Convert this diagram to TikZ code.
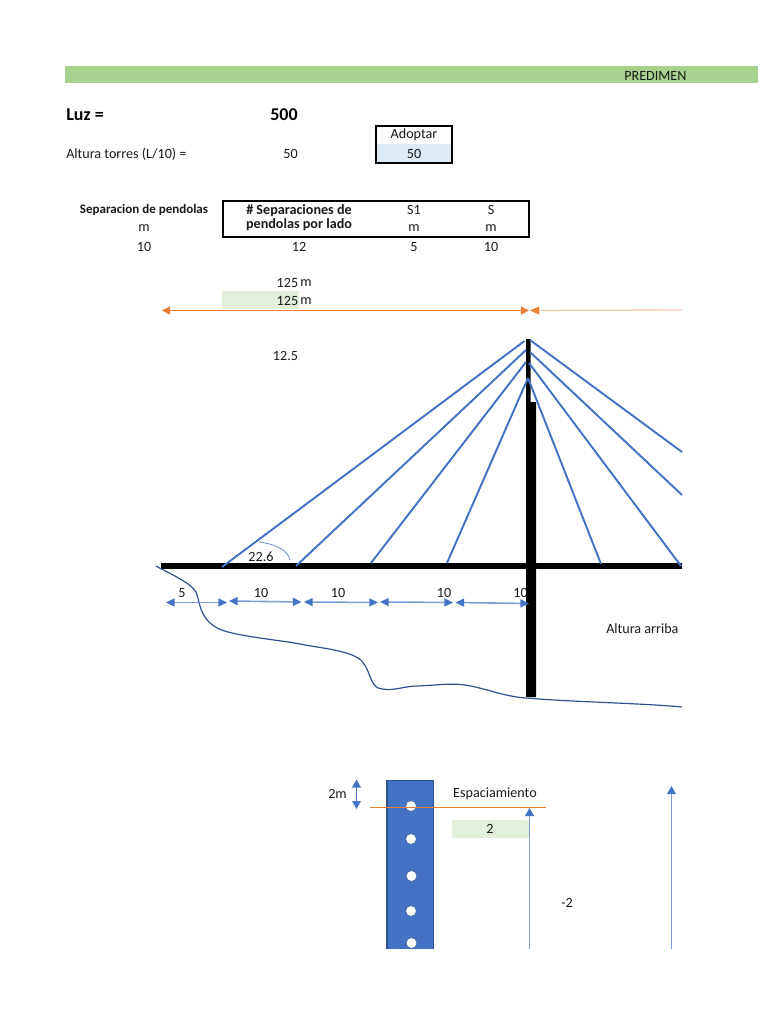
\documentclass[tikz,border=0pt]{standalone}
\usepackage{fontspec}
\setmainfont{Carlito}
\usetikzlibrary{arrows.meta}
\definecolor{barG}{HTML}{A9D18E}
\definecolor{cellG}{HTML}{E2EFDA}
\definecolor{cellB}{HTML}{DDEBF7}
\definecolor{cblue}{HTML}{4472C4}
\definecolor{dblue}{HTML}{2F528F}
\definecolor{corange}{HTML}{ED7D31}
\definecolor{porange}{HTML}{F8CBAD}
\definecolor{lblue}{HTML}{7C9BD8}
\tikzset{
  x=0.75pt,y=-0.75pt,
  txt/.style={inner sep=0pt,font=\fontsize{10.6}{12}\selectfont,text=black!90},
  btxt/.style={txt,font=\fontsize{10.6}{12}\selectfont\bfseries},
  big/.style={inner sep=0pt,font=\fontsize{13.5}{15}\selectfont\bfseries,text=black},
  cable/.style={cblue,line width=1.45pt},
  dimline/.style={lblue,line width=1.2pt,{Triangle[length=6.5pt,width=6pt,fill=cblue,color=cblue]}-{Triangle[length=6.5pt,width=6pt,fill=cblue,color=cblue]}},
  upline/.style={lblue,line width=1.1pt,-{Triangle[length=6pt,width=6.5pt,fill=cblue,color=cblue]}},
  hole/.style={circle,fill=white,draw=dblue,line width=0.3pt,minimum size=8pt,inner sep=0pt},
  tipo/.style={corange,line width=1pt,{Triangle[length=6pt,width=6pt]}-{Triangle[length=6pt,width=6pt]}},
}
\begin{document}
\begin{tikzpicture}
\useasboundingbox (0,0) rectangle (768,1024);
% header
\fill[barG] (65,66) rectangle (758,83.5);
\node[txt,anchor=west] (head) at (624,75.5) {PREDIMEN};
\node[big,anchor=west] (luz) at (66,114.5) {Luz =};
\node[big,anchor=east] (luzv) at (298,114.5) {500};
\node[txt,anchor=west] (alt) at (66,154) {Altura torres (L/10) =};
\node[txt,anchor=east] (altv) at (298,154) {50};
% adoptar
\fill[cellB] (377,144) rectangle (451,162);
\draw[black,line width=1.5pt] (376,126) rectangle (452,163);
\node[txt] (ad) at (414,135) {Adoptar};
\node[txt] (adv) at (414,154) {50};
% table
\draw[black,line width=1.5pt] (222.5,200.5) rectangle (529,237);
\node[btxt,font=\fontsize{9.75}{12}\selectfont\bfseries] (sep) at (144,210) {Separacion de pendolas};
\node[txt] (sepm) at (144,228.5) {m};
\node[txt] (sepv) at (144,246.5) {10};
\node[btxt,align=center,font=\fontsize{10.6}{10}\selectfont\bfseries] (ns) at (299,217.5) {\# Separaciones de\\pendolas por lado};
\node[txt] (nsv) at (299,246.5) {12};
\node[txt] (s1) at (414,210) {S1};
\node[txt] (s1m) at (414,228.5) {m};
\node[txt] (s1v) at (414,247) {5};
\node[txt] (s) at (491,210) {S};
\node[txt] (sm) at (491,228.5) {m};
\node[txt] (sv) at (491,246.5) {10};
% 125
\fill[cellG] (222,291) rectangle (299,309);
\node[txt,anchor=east] (a) at (298.5,283) {125};
\node[txt,anchor=west] (am) at (300,283) {m};
\node[txt,anchor=east] (b) at (298.5,301) {125};
\node[txt,anchor=west] (bm) at (300,301) {m};
\draw[tipo] (162,310.5) -- (529,310.5);
\draw[porange,line width=1pt] (534,310.5) -- (682,310);
\fill[corange] (530,310.5) -- (539,306.5) -- (539,314.5) -- cycle;
\node[txt] (h) at (285.5,356) {12.5};
% labels under the tower
\node[txt] (d1) at (182,593) {5};
\node[txt] (d2) at (261,592.5) {10};
\node[txt] (d3) at (338,592.5) {10};
\node[txt] (d4) at (444,592.5) {10};
\node[txt] (d5) at (520.5,592.5) {10};
\node[txt] (ang) at (261,556.5) {22.6};
\node[txt,anchor=west] (arr) at (606,628.5) {Altura arriba};
% deck and tower
\fill[black] (161,563) rectangle (682,568.5);
\fill[black] (526,339) rectangle (530.5,402) (526,402) rectangle (536,697);
\draw[lblue,line width=0.7pt] (259,542) .. controls (275,544) and (288,550) .. (290,560);
% cables
\draw[cable] (222,567) -- (524.5,341);
\draw[cable] (296,566) -- (526,350);
\draw[cable] (371,563) -- (526,362);
\draw[cable] (447,563) -- (528,378);
\draw[cable] (530,340) -- (682,452);
\draw[cable] (530,352) -- (682,495);
\draw[cable] (529,363) -- (681,566);
\draw[cable] (528,378) -- (601,564);
% ground
\draw[dblue,line width=0.9pt] (156,566) .. controls (170,574) and (190,582) .. (196,592)
 .. controls (200,600) and (198,617) .. (217,628)
 .. controls (232,636) and (280,640) .. (300,644)
 .. controls (320,648) and (345,650) .. (358,658)
 .. controls (372,667) and (368,688) .. (382,689)
 .. controls (395,691) and (405,686) .. (417,686)
 .. controls (440,685) and (452,683) .. (465,685)
 .. controls (485,688) and (505,697) .. (527,698)
 .. controls (570,702) and (640,703) .. (682,707);
% dimensions
\draw[dimline] (166,602.5) -- (227,602.5);
\draw[dimline] (229,601) -- (301.5,602);
\draw[dimline] (304,602) -- (378,602.5);
\draw[dimline] (380,602) -- (453,602.5);
\draw[dimline] (455.5,602.5) -- (529,603.5);
% bottom
\fill[cblue] (387,780.5) rectangle (433.5,949);
\draw[dblue,line width=0.8pt] (387,949) -- (387,780.5) -- (433.5,780.5) -- (433.5,949);
\node[hole] (h1) at (411,806) {};
\node[hole] (h2) at (411,839) {};
\node[hole] (h3) at (411.5,876) {};
\node[hole] (h4) at (411,911) {};
\node[hole] (h5) at (411.5,943) {};
\draw[corange,line width=0.7pt] (370,807.5) -- (546,807.5);
\draw[cblue,line width=1pt,{Triangle[length=6pt,width=6.5pt]}-{Triangle[length=6pt,width=6.5pt]}] (356.5,779.5) -- (356.5,809);
\node[txt] (twom) at (337.5,793.5) {2m};
\node[txt] (esp) at (495,793.5) {Espaciamiento};
\fill[cellG] (452,820) rectangle (529,838);
\node[txt] (esv) at (490,829) {2};
\draw[upline] (529.5,949) -- (529.5,808);
\draw[upline] (671.5,949) -- (671.5,786);
\node[txt] (m2) at (567,903) {-2};
\end{tikzpicture}
\end{document}
